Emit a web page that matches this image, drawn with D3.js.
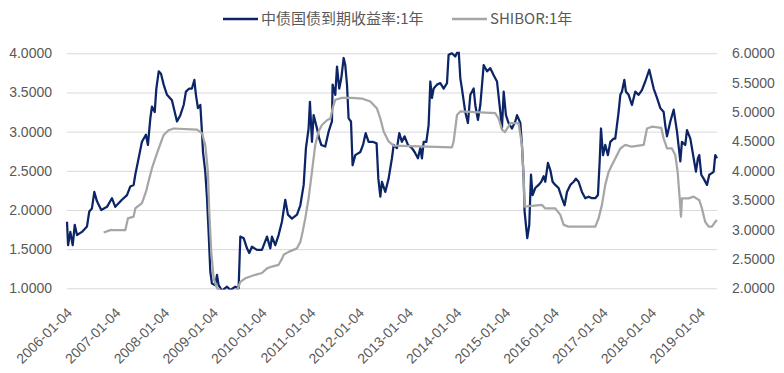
<!DOCTYPE html>
<html>
<head>
<meta charset="utf-8">
<script src="https://cdn.jsdelivr.net/npm/d3@7"></script>
<style>
body { margin: 0; background: #fff; }
text { font-family: "Liberation Sans", Arial, sans-serif; fill: #595959; }
.legend text { font-family: "Noto Sans CJK SC", "Liberation Sans", sans-serif; }
</style>
</head>
<body>
<svg width="784" height="373"></svg>
<script>
/* global d3 */
// 中债国债到期收益率:1年 (left axis)
const bondDates = [
  '2006-01-04', '2006-01-12', '2006-01-29', '2006-02-16', '2006-03-03', '2006-03-20', '2006-04-26', '2006-06-03', '2006-06-20', '2006-07-10', '2006-07-28', '2006-08-17', '2006-09-18', '2006-10-31', '2006-12-07',
  '2007-01-01', '2007-02-20', '2007-03-30', '2007-04-24', '2007-05-19', '2007-05-31', '2007-06-30', '2007-07-20', '2007-08-19', '2007-09-03', '2007-09-21', '2007-10-03', '2007-10-24', '2007-11-05', '2007-11-23', '2007-12-10', '2007-12-30',
  '2008-01-24', '2008-03-01', '2008-04-08', '2008-05-03', '2008-05-28', '2008-06-14', '2008-07-09', '2008-07-29', '2008-08-16', '2008-08-28', '2008-09-12', '2008-09-30', '2008-10-12', '2008-10-20', '2008-11-06', '2008-11-19', '2008-12-01', '2008-12-14', '2008-12-26',
  '2009-01-20', '2009-02-02', '2009-02-14', '2009-03-11', '2009-04-18', '2009-05-13', '2009-06-19', '2009-07-14', '2009-07-27', '2009-08-21', '2009-09-15', '2009-10-02', '2009-10-22', '2009-11-29',
  '2010-01-05', '2010-02-12', '2010-03-09', '2010-03-21', '2010-04-15', '2010-05-10', '2010-06-04', '2010-06-29', '2010-07-19', '2010-08-18', '2010-09-25', '2010-10-20', '2010-11-14', '2010-12-01', '2010-12-21', '2010-12-31',
  '2011-01-15', '2011-01-28', '2011-02-22', '2011-03-11', '2011-03-26', '2011-04-25', '2011-05-20', '2011-06-14', '2011-06-19', '2011-07-09', '2011-07-22', '2011-08-08', '2011-08-23', '2011-09-10', '2011-09-22', '2011-10-05', '2011-10-17', '2011-11-04', '2011-11-16', '2011-12-06',
  '2012-01-13', '2012-02-02', '2012-02-22', '2012-03-15', '2012-04-14', '2012-05-14', '2012-05-27', '2012-06-11', '2012-06-23', '2012-07-18', '2012-08-12', '2012-09-06', '2012-09-19', '2012-10-14', '2012-10-31', '2012-11-20', '2012-12-10',
  '2013-01-04', '2013-02-03', '2013-02-23', '2013-03-20', '2013-04-07', '2013-04-19', '2013-05-02', '2013-05-22', '2013-06-08', '2013-06-21', '2013-07-03', '2013-07-16', '2013-08-10', '2013-09-04', '2013-09-29', '2013-10-24', '2013-11-05', '2013-11-30', '2013-12-25',
  '2014-01-19', '2014-02-01', '2014-02-13', '2014-03-10', '2014-03-30', '2014-04-17', '2014-05-12', '2014-05-24', '2014-06-13', '2014-07-01', '2014-07-26', '2014-08-20', '2014-09-14', '2014-10-09', '2014-11-03', '2014-11-28', '2014-12-10', '2014-12-23',
  '2015-01-09', '2015-01-29', '2015-02-23', '2015-03-20', '2015-04-02', '2015-04-27', '2015-05-09', '2015-05-22', '2015-05-29', '2015-06-08', '2015-06-18', '2015-07-03', '2015-07-16', '2015-07-28', '2015-08-17', '2015-09-11', '2015-10-01', '2015-10-19', '2015-10-31', '2015-11-20', '2015-12-08', '2015-12-25',
  '2016-01-14', '2016-02-08', '2016-03-04', '2016-03-24', '2016-04-11', '2016-05-06', '2016-05-31', '2016-06-17', '2016-07-07', '2016-08-01', '2016-08-26', '2016-09-20', '2016-10-15', '2016-11-09', '2016-11-29', '2016-12-12', '2016-12-22',
  '2017-01-06', '2017-01-23', '2017-02-12', '2017-03-02', '2017-03-27', '2017-04-08', '2017-05-03', '2017-05-16', '2017-05-28', '2017-06-15', '2017-06-27', '2017-07-17', '2017-08-11', '2017-09-05', '2017-09-30', '2017-10-25', '2017-11-19', '2017-12-19',
  '2018-01-03', '2018-01-21', '2018-02-15', '2018-03-12', '2018-04-06', '2018-04-18', '2018-05-01', '2018-05-26', '2018-06-20', '2018-07-15', '2018-08-09', '2018-08-21', '2018-09-15', '2018-09-28', '2018-10-23', '2018-11-17', '2018-12-04', '2018-12-19', '2018-12-29',
  '2019-01-13', '2019-01-31', '2019-02-25', '2019-03-14', '2019-04-03', '2019-04-16', '2019-04-28', '2019-05-11'
]
const bondValues = [
  1.85, 1.55, 1.72, 1.55, 1.81, 1.68, 1.72, 1.79, 1.98, 2.02, 2.23, 2.11, 2.00, 2.04, 2.15,
  2.04, 2.13, 2.19, 2.30, 2.32, 2.45, 2.70, 2.87, 2.96, 2.83, 3.17, 3.32, 3.25, 3.55, 3.77, 3.74, 3.60,
  3.47, 3.40, 3.13, 3.21, 3.34, 3.51, 3.55, 3.55, 3.66, 3.47, 3.30, 3.34, 3.00, 2.74, 2.49, 2.15, 1.72, 1.21, 1.06,
  1.04, 1.17, 1.04, 0.97, 1.02, 0.98, 1.02, 1.00, 1.66, 1.64, 1.51, 1.45, 1.53, 1.49,
  1.49, 1.66, 1.51, 1.66, 1.55, 1.68, 1.85, 2.13, 1.94, 1.89, 1.94, 2.06, 2.32, 2.79, 3.04, 3.38,
  2.87, 3.21, 3.04, 2.91, 2.83, 2.81, 3.00, 3.13, 3.60, 3.47, 3.83, 3.55, 3.68, 3.94, 3.85, 3.60, 3.17, 3.13, 2.57, 2.70,
  2.74, 2.83, 2.98, 2.87, 2.87, 2.85, 2.40, 2.17, 2.36, 2.23, 2.40, 2.66, 2.83, 2.79, 2.98, 2.87, 2.94,
  2.83, 2.79, 2.74, 2.66, 2.79, 2.66, 2.87, 2.87, 3.08, 3.64, 3.43, 3.55, 3.60, 3.62, 3.55, 3.62, 3.98, 4.00, 3.96,
  4.05, 3.68, 3.55, 3.25, 3.11, 3.47, 3.55, 3.34, 3.15, 3.34, 3.85, 3.77, 3.81, 3.72, 3.64, 3.25, 3.04, 3.51,
  3.21, 3.11, 3.04, 3.13, 3.21, 3.11, 2.83, 2.40, 1.98, 1.81, 1.64, 1.81, 2.45, 2.19, 2.28, 2.32, 2.36, 2.43, 2.36, 2.60, 2.51, 2.36,
  2.32, 2.28, 2.15, 2.06, 2.23, 2.32, 2.36, 2.40, 2.36, 2.23, 2.15, 2.17, 2.15, 2.15, 2.19, 2.62, 3.04,
  2.70, 2.83, 2.70, 2.87, 2.91, 2.91, 3.25, 3.47, 3.51, 3.66, 3.51, 3.47, 3.34, 3.51, 3.47, 3.53, 3.64, 3.79,
  3.68, 3.55, 3.43, 3.30, 3.25, 3.08, 2.94, 3.13, 3.28, 3.00, 2.62, 2.87, 2.83, 3.02, 2.91, 2.66, 2.49, 2.66, 2.70,
  2.45, 2.40, 2.32, 2.45, 2.47, 2.49, 2.70, 2.66
]

// SHIBOR:1年 (right axis)
const shiborDates = [
  '2006-10-06', '2006-11-25', '2007-03-17', '2007-04-06', '2007-05-19', '2007-05-31', '2007-07-20', '2007-08-19', '2007-09-13', '2007-10-03', '2007-10-28', '2007-11-23', '2007-12-30',
  '2008-02-05', '2008-03-14', '2008-09-05', '2008-10-12', '2008-11-06', '2008-11-26', '2008-12-06', '2008-12-21',
  '2009-01-08', '2009-02-02', '2009-03-11', '2009-07-02', '2009-07-27', '2009-09-02', '2009-11-16',
  '2010-01-05', '2010-02-12', '2010-03-21', '2010-05-10', '2010-06-04', '2010-06-17', '2010-07-24', '2010-09-25', '2010-10-20', '2010-11-06', '2010-11-26', '2010-12-21',
  '2011-01-15', '2011-02-09', '2011-03-06', '2011-03-31', '2011-05-08', '2011-06-02', '2011-06-19', '2011-07-09', '2011-08-28', '2011-11-11',
  '2012-01-25', '2012-03-28', '2012-05-17', '2012-06-11', '2012-07-06', '2012-08-12', '2012-09-19',
  '2013-11-30', '2013-12-13', '2014-01-07', '2014-02-01', '2014-10-21', '2014-11-15', '2014-12-10',
  '2015-01-02', '2015-02-11', '2015-04-14', '2015-05-09', '2015-05-22', '2015-05-29', '2015-10-06', '2015-10-31',
  '2016-01-14', '2016-02-21', '2016-03-17', '2016-04-23', '2016-11-09', '2016-12-04', '2016-12-29',
  '2017-01-23', '2017-02-17', '2017-03-14', '2017-04-08', '2017-05-16', '2017-06-22', '2017-08-11', '2017-11-07', '2017-12-02',
  '2018-01-08', '2018-03-19', '2018-04-06', '2018-05-01', '2018-06-07', '2018-07-02', '2018-07-20', '2018-08-04', '2018-08-14', '2018-08-21', '2018-10-10', '2018-11-17', '2018-12-29',
  '2019-01-18', '2019-02-12', '2019-03-09', '2019-04-03', '2019-04-28', '2019-05-11'
]
const shiborValues = [
  2.95, 2.99, 2.99, 3.19, 3.22, 3.36, 3.45, 3.64, 3.87, 4.04, 4.21, 4.38, 4.61,
  4.69, 4.72, 4.70, 4.64, 4.44, 3.98, 3.30, 2.62,
  2.17, 2.00, 1.96, 1.96, 2.11, 2.17, 2.23,
  2.26, 2.34, 2.37, 2.40, 2.50, 2.57, 2.62, 2.68, 2.79, 2.96, 3.19, 3.53,
  3.98, 4.44, 4.67, 4.78, 4.86, 4.89, 5.06, 5.21, 5.24, 5.24,
  5.23, 5.18, 5.06, 4.89, 4.67, 4.50, 4.43,
  4.40, 4.50, 4.95, 5.01, 4.98, 4.89, 4.70,
  4.66, 4.81, 4.81, 4.44, 3.87, 3.39, 3.42, 3.36,
  3.36, 3.25, 3.08, 3.05, 3.05, 3.19, 3.42,
  3.76, 3.98, 4.10, 4.21, 4.38, 4.44, 4.41, 4.44, 4.72,
  4.75, 4.73, 4.55, 4.38, 4.38, 4.27, 3.98, 3.53, 3.22, 3.53, 3.53, 3.56, 3.50,
  3.36, 3.13, 3.05, 3.05, 3.13, 3.16
]

const xTickDates = ['2006-01-04', '2007-01-04', '2008-01-04', '2009-01-04', '2010-01-04', '2011-01-04', '2012-01-04',
  '2013-01-04', '2014-01-04', '2015-01-04', '2016-01-04', '2017-01-04', '2018-01-04', '2019-01-04']
const leftTicks = [1.0, 1.5, 2.0, 2.5, 3.0, 3.5, 4.0]
const rightTicks = [2.0, 2.5, 3.0, 3.5, 4.0, 4.5, 5.0, 5.5, 6.0]
const seriesNames = ['中债国债到期收益率:1年', 'SHIBOR:1年']
const seriesColors = ['#0c2566', '#a6a6a6']

const parse = d3.timeParse('%Y-%m-%d')
const svg = d3.select('svg')
const margin = { top: 53.3, bottom: 84.7, left: 67, right: 67 }
const width = 784 - margin.left - margin.right
const height = 373 - margin.top - margin.bottom

const xScale = d3.scaleTime()
    .domain([parse('2006-01-04'), parse('2019-05-11')])
    .range([0, width])
const yLeft = d3.scaleLinear().domain([1, 4]).range([height, 0])
const yRight = d3.scaleLinear().domain([2, 6]).range([height, 0])

const g = svg.append('g')
    .attr('transform', 'translate(' + margin.left + ',' + margin.top + ')')

// gridlines + left labels
const leftAxis = g.append('g')
    .call(d3.axisLeft(yLeft).tickValues(leftTicks).tickFormat(d3.format('.4f'))
        .tickSize(-width).tickPadding(15))
leftAxis.select('.domain').remove()
leftAxis.selectAll('line').attr('stroke', '#d9d9d9')
leftAxis.selectAll('text').style('font-size', '14px').attr('fill', '#595959')

const rightAxis = g.append('g')
    .attr('transform', 'translate(' + width + ',0)')
    .call(d3.axisRight(yRight).tickValues(rightTicks).tickFormat(d3.format('.4f'))
        .tickSize(0).tickPadding(15))
rightAxis.select('.domain').remove()
rightAxis.selectAll('text').style('font-size', '14px').attr('fill', '#595959')

const xAxis = g.append('g')
    .attr('transform', 'translate(0,' + height + ')')
    .call(d3.axisBottom(xScale).tickValues(xTickDates.map(parse))
        .tickFormat(d3.timeFormat('%Y-%m-%d')).tickSize(0))
xAxis.select('.domain').remove()
xAxis.selectAll('text')
    .style('font-size', '14px')
    .attr('fill', '#595959')
    .attr('text-anchor', 'end')
    .attr('x', 0).attr('y', 0).attr('dy', '0.35em')
    .attr('transform', 'translate(2,22) rotate(-45)')

// clip so the lines stop at the plot edges
svg.append('clipPath').attr('id', 'plot-clip')
    .append('rect').attr('x', -2).attr('y', -1.5).attr('width', width + 4).attr('height', height + 3)

const plot = g.append('g').attr('clip-path', 'url(#plot-clip)')

const bondData = bondDates.map((d, i) => [parse(d), bondValues[i]])
const shiborData = shiborDates.map((d, i) => [parse(d), shiborValues[i]])

plot.append('path')
    .datum(bondData)
    .attr('fill', 'none')
    .attr('stroke', seriesColors[0])
    .attr('stroke-width', 2.25)
    .attr('stroke-linejoin', 'round')
    .attr('d', d3.line().x(d => xScale(d[0])).y(d => yLeft(d[1])))

plot.append('path')
    .datum(shiborData)
    .attr('fill', 'none')
    .attr('stroke', seriesColors[1])
    .attr('stroke-width', 2.25)
    .attr('stroke-linejoin', 'round')
    .attr('d', d3.line().x(d => xScale(d[0])).y(d => yRight(d[1])))

// legend
const legend = svg.append('g').attr('class', 'legend')
const legendX = [223, 452]
seriesNames.forEach((name, i) => {
    const item = legend.append('g').attr('transform', 'translate(' + legendX[i] + ',19)')
    item.append('line')
        .attr('x1', 0).attr('x2', 35)
        .attr('stroke', seriesColors[i])
        .attr('stroke-width', 2.5)
    item.append('text')
        .attr('x', 38)
        .attr('dy', '0.35em')
        .style('font-size', '15px')
        .text(name)
})
</script>
</body>
</html>
